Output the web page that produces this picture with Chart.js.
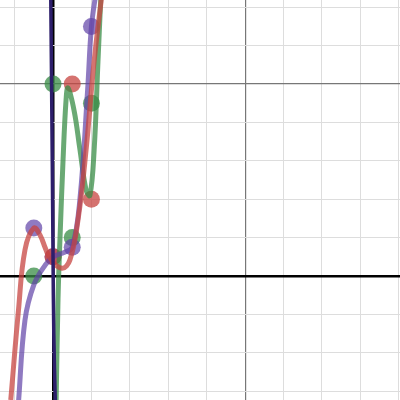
<!DOCTYPE html>
<html>
<head>
<script src="https://cdn.jsdelivr.net/npm/chart.js@4"></script>
<style>body{margin:0;background:#fff}#wrap{width:400px;height:400px}</style>
</head>
<body>
<div id="wrap"><canvas id="c"></canvas></div>
<script>
// curves, [x, y]
const redCurve = [[-1.1,-3.23],[-0.9,-0.9],[-0.73,0.68],[-0.5,1.25],[-0.34,1.07],[-0.08,0.47],[0.23,0.2],[0.44,0.42],[0.65,1.46],[0.86,3.28],[1.07,5.6],[1.28,7.4]];
const purpleCurve = [[-0.9,-3.3],[-0.73,-1.15],[-0.5,-0.23],[-0.2,0.29],[0,0.5],[0.3,0.62],[0.5,0.75],[0.7,2],[0.9,4.84],[1,6.5],[1.12,7.4]];
const greenCurve = [[0.08,-3.3],[0.13,-0.6],[0.18,0.94],[0.26,3],[0.34,4.6],[0.39,4.9],[0.55,4.3],[0.7,3.3],[0.86,2.24],[0.96,2.1],[1.07,3.28],[1.17,5.6],[1.25,7.4]];
const blueCurve = [[-0.06,7.4],[-0.02,3],[0,0.5],[0.02,-1.5],[0.06,-3.3]];
const redDots = [[0.5,5],[1,2],[0,0.5]];
const purpleDots = [[1,6.5],[-0.5,1.25],[0.5,0.75],[0,0.5]];
const greenDots = [[0,5],[1,4.5],[-0.5,0],[0.5,1]];

const RED = 'rgba(199,68,64,0.75)', PURPLE = 'rgba(96,66,166,0.7)', GREEN = 'rgba(56,140,70,0.75)', BLUE = '#2d1e6b';
const pts = a => a.map(p => ({x: p[0], y: p[1]}));
function curve(d, c, w) {
  return {data: pts(d), showLine: true, borderColor: c, borderWidth: w || 5, pointRadius: 0, tension: 0.4, fill: false};
}
function dots(d, c) {
  return {data: pts(d), showLine: false, backgroundColor: c, borderWidth: 0, pointRadius: 8.5};
}
function grid(ctx) {
  const v = ctx.tick.value;
  if (v === 0) return '#000';
  return v % 5 === 0 ? '#777' : '#ddd';
}
function gw(ctx) { return ctx.tick.value === 0 ? 2.5 : (ctx.tick.value % 5 === 0 ? 1.2 : 1); }
new Chart(document.getElementById('c'), {
  type: 'scatter',
  data: {datasets: [
    curve(blueCurve, BLUE, 3.5),
    curve(redCurve, RED),
    curve(purpleCurve, PURPLE),
    curve(greenCurve, GREEN),
    dots(redDots, RED),
    dots(purpleDots, PURPLE),
    dots(greenDots, GREEN)
  ]},
  options: {
    responsive: true, maintainAspectRatio: false, animation: false,
    layout: {padding: 0, autoPadding: false},
    plugins: {legend: {display: false}, tooltip: {enabled: false}},
    scales: {
      x: {type: 'linear', min: -1.38, max: 9.03, border: {display: false},
          ticks: {display: false, stepSize: 1}, afterBuildTicks: s => { s.ticks = []; for (let i = -1; i <= 9; i++) s.ticks.push({value: i}); },
          grid: {color: grid, lineWidth: gw, drawTicks: false}},
      y: {type: 'linear', min: -3.23, max: 7.19, border: {display: false},
          ticks: {display: false, stepSize: 1}, afterBuildTicks: s => { s.ticks = []; for (let i = -3; i <= 7; i++) s.ticks.push({value: i}); },
          grid: {color: grid, lineWidth: gw, drawTicks: false}}
    }
  }
});
</script>
</body>
</html>
